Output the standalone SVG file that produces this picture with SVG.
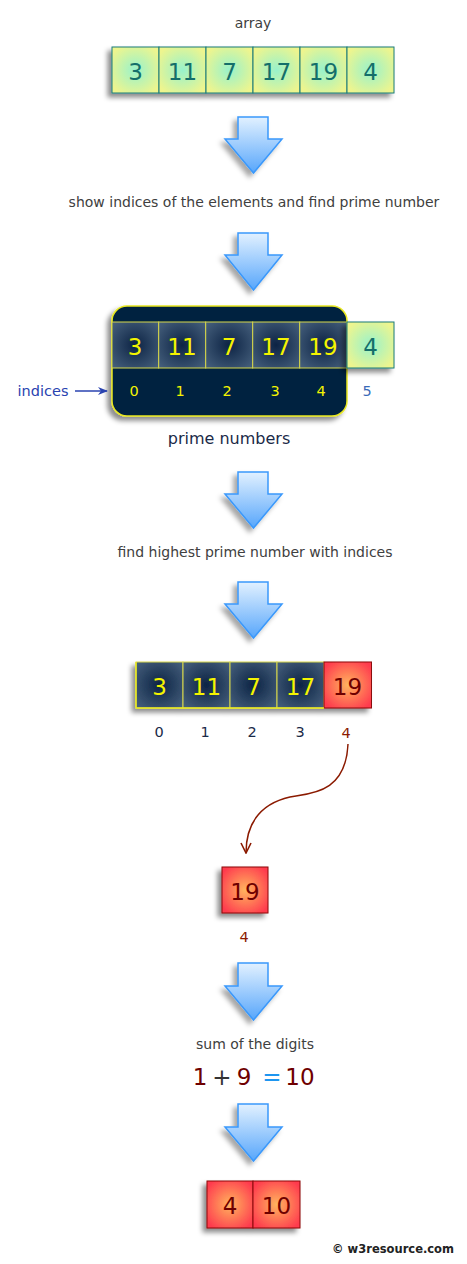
<svg xmlns="http://www.w3.org/2000/svg" width="467" height="1264" viewBox="0 0 467 1264">
<defs>
  <radialGradient id="gGreen" cx="50%" cy="50%" r="60%">
    <stop offset="0" stop-color="#98f2cc"/>
    <stop offset="1" stop-color="#eef58e"/>
  </radialGradient>
  <radialGradient id="gDark" cx="50%" cy="50%" r="65%">
    <stop offset="0" stop-color="#0c2344"/>
    <stop offset="1" stop-color="#435d7a"/>
  </radialGradient>
  <radialGradient id="gRed" cx="50%" cy="50%" r="62%">
    <stop offset="0" stop-color="#ffb45e"/>
    <stop offset="1" stop-color="#ff3a4e"/>
  </radialGradient>
  <linearGradient id="gArrow" x1="0" y1="0" x2="0" y2="1">
    <stop offset="0" stop-color="#e2f1ff"/>
    <stop offset="1" stop-color="#57a6fb"/>
  </linearGradient>
  <filter id="sh" x="-30%" y="-30%" width="160%" height="160%">
    <feDropShadow dx="-4" dy="4" stdDeviation="2.5" flood-color="#000" flood-opacity="0.45"/>
  </filter>
  <filter id="shA" x="-30%" y="-30%" width="160%" height="160%">
    <feDropShadow dx="-4" dy="4" stdDeviation="2.5" flood-color="#000" flood-opacity="0.35"/>
  </filter>
  <marker id="mRed" viewBox="0 0 12 12" refX="11" refY="6" markerWidth="12" markerHeight="12" markerUnits="userSpaceOnUse" orient="auto">
    <path d="M1,1 L11,6 L1,11" fill="none" stroke="#8b1a00" stroke-width="1.6"/>
  </marker>
  <marker id="mBlue" viewBox="0 0 10 10" refX="9" refY="5" markerWidth="10" markerHeight="10" markerUnits="userSpaceOnUse" orient="auto">
    <path d="M0,1 L10,5 L0,9 L3,5 z" fill="#2a43b0"/>
  </marker>
</defs>
<style>
  text { font-family: "DejaVu Sans", Verdana, sans-serif; }
  .lbl { font-size: 14px; fill: #404040; text-anchor: middle; }
  .num { font-size: 23px; text-anchor: middle; }
  .g { fill: url(#gGreen); stroke: #1b7b78; stroke-width: 1; }
  .gt { fill: #146e6a; }
  .d { fill: url(#gDark); stroke: #d8d84a; stroke-width: 1; }
  .dt { fill: #f4f400; }
  .r { fill: url(#gRed); stroke: #8b0a0a; stroke-width: 1; }
  .rt { fill: #6e0000; }
  .idx { font-size: 14.5px; text-anchor: middle; }
  .arrow { fill: url(#gArrow); stroke: #3a98fb; stroke-width: 1.5; filter: url(#shA); }
</style>

<rect width="467" height="1264" fill="#ffffff"/>

<g id="label-array"><text class="lbl" x="253" y="28">array</text></g>

<g id="array-input">
  <g filter="url(#sh)">
    <rect class="g" x="112" y="47" width="47" height="46"/>
    <rect class="g" x="159" y="47" width="47" height="46"/>
    <rect class="g" x="206" y="47" width="47" height="46"/>
    <rect class="g" x="253" y="47" width="47" height="46"/>
    <rect class="g" x="300" y="47" width="47" height="46"/>
    <rect class="g" x="347" y="47" width="47" height="46"/>
  </g>
  <text class="num gt" x="135.5" y="80">3</text>
  <text class="num gt" x="182.5" y="80">11</text>
  <text class="num gt" x="229.5" y="80">7</text>
  <text class="num gt" x="276.5" y="80">17</text>
  <text class="num gt" x="323.5" y="80">19</text>
  <text class="num gt" x="370.5" y="80">4</text>
</g>

<g id="label-show"><text class="lbl" x="254" y="207">show indices of the elements and find prime number</text></g>

<g id="array-indexed">
  <rect x="112" y="306" width="235" height="110" rx="15" ry="15" fill="#03203f" stroke="#e8e820" stroke-width="1.5" filter="url(#sh)"/>
  <rect class="d" x="112" y="322" width="46.7" height="46"/>
  <rect class="d" x="158.7" y="322" width="47" height="46"/>
  <rect class="d" x="205.7" y="322" width="47" height="46"/>
  <rect class="d" x="252.7" y="322" width="47" height="46"/>
  <rect class="d" x="299.7" y="322" width="47.3" height="46"/>
  <rect class="g" x="347" y="322" width="47" height="46" filter="url(#sh)"/>
  <text class="num dt" x="135" y="355">3</text>
  <text class="num dt" x="182" y="355">11</text>
  <text class="num dt" x="229" y="355">7</text>
  <text class="num dt" x="276" y="355">17</text>
  <text class="num dt" x="323" y="355">19</text>
  <text class="num gt" x="370.5" y="355">4</text>
  <text class="idx dt" x="134" y="396">0</text>
  <text class="idx dt" x="180" y="396">1</text>
  <text class="idx dt" x="227" y="396">2</text>
  <text class="idx dt" x="275" y="396">3</text>
  <text class="idx dt" x="321" y="396">4</text>
  <text class="idx" x="367" y="396" fill="#3a6ab8">5</text>
</g>

<g id="label-indices"><text x="43" y="396" font-size="14.5" fill="#2a43b0" text-anchor="middle">indices</text></g>

<g id="label-prime"><text x="229" y="444" font-size="16" fill="#1a2a48" text-anchor="middle">prime numbers</text></g>

<g id="label-highest"><text class="lbl" x="255" y="557">find highest prime number with indices</text></g>

<g id="array-highest">
  <g filter="url(#sh)">
    <rect class="d" x="136" y="662" width="47" height="46"/>
    <rect class="d" x="183" y="662" width="47" height="46"/>
    <rect class="d" x="230" y="662" width="47" height="46"/>
    <rect class="d" x="277" y="662" width="47" height="46"/>
    <rect class="r" x="324" y="662" width="47.5" height="46"/>
  </g>
  <line x1="136" y1="708" x2="324" y2="708" stroke="#e8e820" stroke-width="1.5"/>
  <line x1="136" y1="662" x2="136" y2="708" stroke="#e8e820" stroke-width="1.5"/>
  <text class="num dt" x="159.5" y="695">3</text>
  <text class="num dt" x="206.5" y="695">11</text>
  <text class="num dt" x="253.5" y="695">7</text>
  <text class="num dt" x="300.5" y="695">17</text>
  <text class="num rt" x="347.5" y="695">19</text>
  <text class="idx" x="159" y="737" fill="#1a2a48">0</text>
  <text class="idx" x="205" y="737" fill="#1a2a48">1</text>
  <text class="idx" x="252" y="737" fill="#1a2a48">2</text>
  <text class="idx" x="300" y="737" fill="#1a2a48">3</text>
  <text class="idx" x="346" y="738" fill="#8b1a00" font-size="17">4</text>
</g>

<g id="max-prime">
  <rect class="r" x="222" y="867" width="46" height="46" filter="url(#sh)"/>
  <text class="num rt" x="245" y="900">19</text>
  <text class="idx" x="244" y="942" fill="#8b1a00" font-size="16">4</text>
</g>

<g id="label-sum"><text class="lbl" x="255" y="1049">sum of the digits</text></g>

<g id="sum-expr" font-size="23">
  <text x="200" y="1085" fill="#6e0000" text-anchor="middle">1</text>
  <text x="222" y="1085" fill="#333333" text-anchor="middle">+</text>
  <text x="244" y="1085" fill="#6e0000" text-anchor="middle">9</text>
  <text x="272" y="1085" fill="#1e96f0" text-anchor="middle">=</text>
  <text x="300" y="1085" fill="#6e0000" text-anchor="middle">10</text>
</g>

<g id="result">
  <g filter="url(#sh)">
    <rect class="r" x="207" y="1181" width="46" height="47"/>
    <rect class="r" x="253" y="1181" width="47" height="47"/>
  </g>
  <text class="num rt" x="230" y="1214">4</text>
  <text class="num rt" x="276.5" y="1214">10</text>
</g>

<g id="copyright"><text x="454" y="1253" font-size="11.5" font-weight="bold" fill="#222222" text-anchor="end">© w3resource.com</text></g>

<g id="connectors">
  <polygon class="arrow" points="238,117 268,117 268,139 282,139 253.5,173 225,139 238,139"/>
  <polygon class="arrow" points="238,233 268,233 268,255 282,255 253.5,290 225,255 238,255"/>
  <polygon class="arrow" points="238,472 268,472 268,494 282,494 253.5,528 225,494 238,494"/>
  <polygon class="arrow" points="238,582 268,582 268,604 282,604 253.5,638 225,604 238,604"/>
  <polygon class="arrow" points="238,963 268,963 268,986 282,986 253.5,1020 225,986 238,986"/>
  <polygon class="arrow" points="238,1104 268,1104 268,1127 282,1127 253.5,1161 225,1127 238,1127"/>
  <line x1="75" y1="391" x2="107" y2="391" stroke="#2a43b0" stroke-width="1.5" marker-end="url(#mBlue)"/>
  <path d="M348,744 C346,788 318,793 296,796 C262,801 246,822 246,853" fill="none" stroke="#8b1a00" stroke-width="1.5" marker-end="url(#mRed)"/>
</g>
</svg>
